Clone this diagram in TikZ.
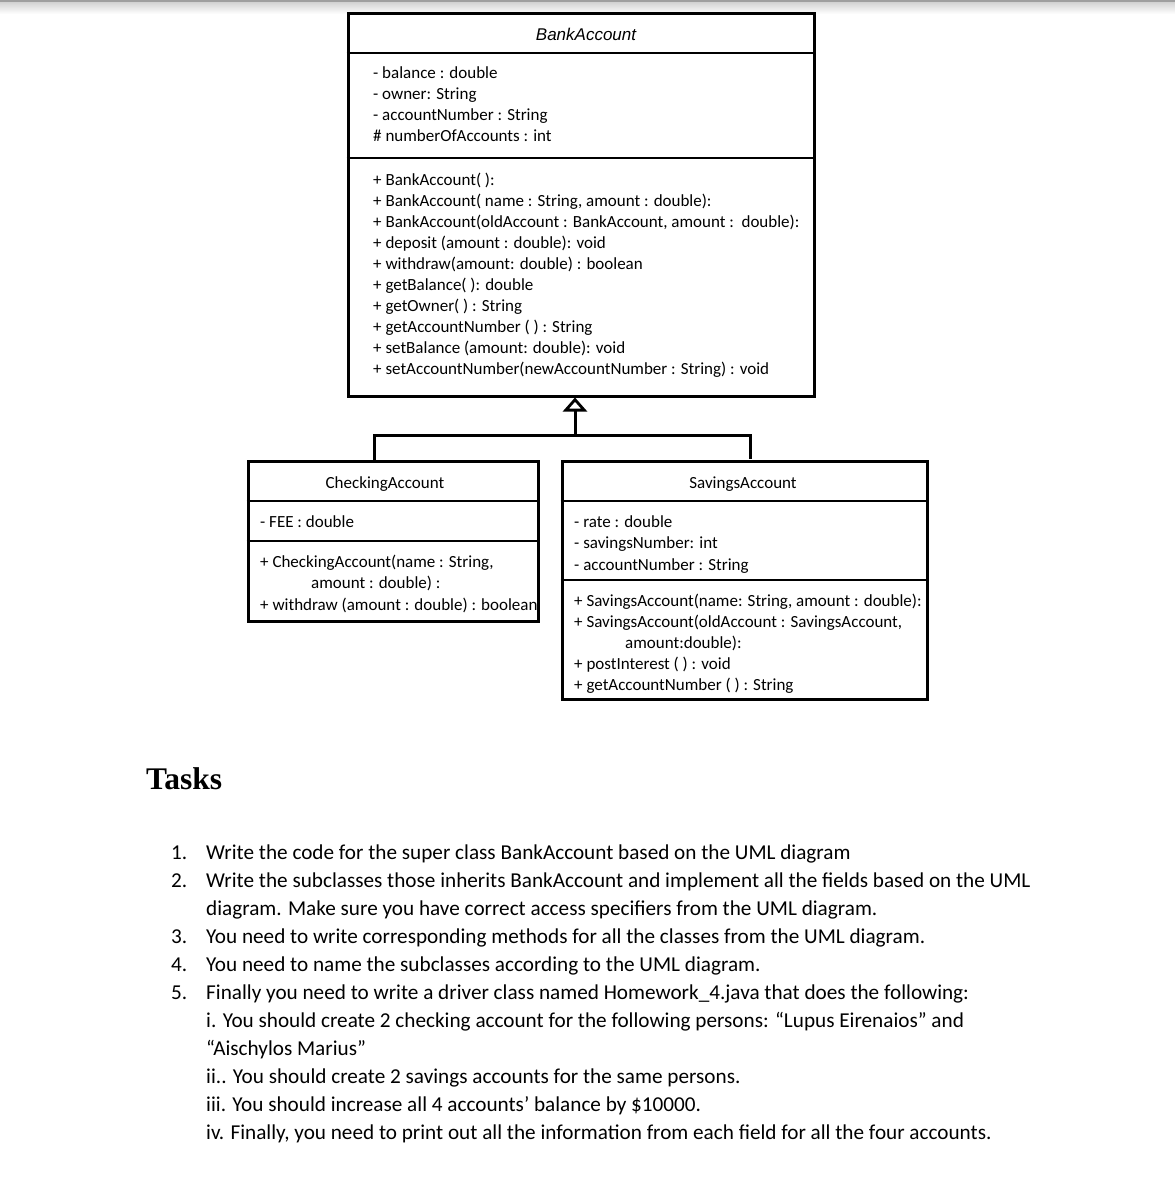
\documentclass[tikz,border=0pt]{standalone}
\usepackage{fontspec}
\setmainfont{Carlito}
\newfontfamily\arialfont{Liberation Sans}
\newfontfamily\timesfont{Liberation Serif}
\usetikzlibrary{arrows.meta}
\begin{document}
\begin{tikzpicture}[x=1pt,y=-1pt,
  box/.style={draw, line width=3pt, inner sep=0, fill=white},
  divider/.style={line width=2.6pt},
  uml/.style={anchor=base west, inner sep=0, font=\fontsize{17}{21}\selectfont},
  umltitle/.style={anchor=base, inner sep=0, font=\fontsize{17}{21}\selectfont},
  task/.style={anchor=base west, inner sep=0, font=\fontsize{21.2}{28}\selectfont},
  conn/.style={line width=3pt}]
\useasboundingbox (0,0) rectangle (1175,1189);
% top shadow band
\fill[white] (0,0) rectangle (1175,1189);
\shade[top color=gray!35, bottom color=white] (0,2) rectangle (1175,14);
\fill[gray!75] (0,0) rectangle (1175,2.2);

% ---- BankAccount ----
\node[box, minimum width=466pt, minimum height=383pt] (ba) at (581,204.5) {};
\draw[divider] (ba.west |- 0,53) -- (ba.east |- 0,53);
\draw[divider] (ba.west |- 0,158) -- (ba.east |- 0,158);
\node[umltitle, font=\arialfont\itshape\fontsize{17}{21}\selectfont] (batitle) at (586,40) {BankAccount};
\node[uml] (baa1) at (373,78.5) {- balance : double};
\node[uml] (baa2) at (373,99.6) {- owner: String};
\node[uml] (baa3) at (373,120.7) {- accountNumber : String};
\node[uml] (baa4) at (373,141.8) {\# numberOfAccounts : int};
\node[uml] (bam1) at (373,185) {+ BankAccount( ):};
\node[uml] (bam2) at (373,206.1) {+ BankAccount( name : String, amount : double):};
\node[uml] (bam3) at (373,227.2) {+ BankAccount(oldAccount : BankAccount, amount :\ \ double):};
\node[uml] (bam4) at (373,248.3) {+ deposit (amount : double): void};
\node[uml] (bam5) at (373,269.4) {+ withdraw(amount: double) : boolean};
\node[uml] (bam6) at (373,290.5) {+ getBalance( ): double};
\node[uml] (bam7) at (373,311.6) {+ getOwner( ) : String};
\node[uml] (bam8) at (373,332.7) {+ getAccountNumber ( ) : String};
\node[uml] (bam9) at (373,353.8) {+ setBalance (amount: double): void};
\node[uml] (bam10) at (373,374.9) {+ setAccountNumber(newAccountNumber : String) : void};

% ---- CheckingAccount ----
\node[box, minimum width=290pt, minimum height=160pt] (ca) at (393,541) {};
\draw[divider] (ca.west |- 0,501) -- (ca.east |- 0,501);
\draw[divider] (ca.west |- 0,541) -- (ca.east |- 0,541);
\node[umltitle] (catitle) at (385,488) {CheckingAccount};
\node[uml] (caa1) at (260,527) {- FEE : double};
\node[uml] (cam1) at (260,567) {+ CheckingAccount(name : String,};
\node[uml] (cam2) at (311,588.5) {amount : double) :};
\node[uml] (cam3) at (260,610) {+ withdraw (amount : double) : boolean};

% ---- SavingsAccount ----
\node[box, minimum width=365pt, minimum height=238pt] (sa) at (744.5,580) {};
\draw[divider] (sa.west |- 0,501) -- (sa.east |- 0,501);
\draw[divider] (sa.west |- 0,580) -- (sa.east |- 0,580);
\node[umltitle] (satitle) at (743,488) {SavingsAccount};
\node[uml] (saa1) at (574,527) {- rate : double};
\node[uml] (saa2) at (574,548.5) {- savingsNumber: int};
\node[uml] (saa3) at (574,570) {- accountNumber : String};
\node[uml] (sam1) at (574,606) {+ SavingsAccount(name: String, amount : double):};
\node[uml] (sam2) at (574,627) {+ SavingsAccount(oldAccount : SavingsAccount,};
\node[uml] (sam3) at (625,648) {amount:double):};
\node[uml] (sam4) at (574,669) {+ postInterest ( ) : void};
\node[uml] (sam5) at (574,690) {+ getAccountNumber ( ) : String};

% ---- inheritance ----
\coordinate (j) at (575,435);
\coordinate (cadrop) at (374,461);
\coordinate (sadrop) at (750,459);
\draw[conn] (cadrop) |- (j) -| (sadrop);
\draw[conn, -{Triangle[open, length=14pt, width=24pt, line width=2.8pt]}] (j) -- (j |- ba.south);

% ---- Tasks ----
\node[anchor=base west, inner sep=0, font=\timesfont\bfseries\fontsize{31.5}{36}\selectfont] (tasks) at (146,789) {Tasks};
\node[task] (n1) at (171,859) {1.};
\node[task] (t1) at (206,859) {Write the code for the super class BankAccount based on the UML diagram};
\node[task] (n2) at (171,887) {2.};
\node[task] (t2) at (206,887) {Write the subclasses those inherits BankAccount and implement all the fields based on the UML};
\node[task] (t2b) at (206,915) {diagram. Make sure you have correct access specifiers from the UML diagram.};
\node[task] (n3) at (171,943) {3.};
\node[task] (t3) at (206,943) {You need to write corresponding methods for all the classes from the UML diagram.};
\node[task] (n4) at (171,971) {4.};
\node[task] (t4) at (206,971) {You need to name the subclasses according to the UML diagram.};
\node[task] (n5) at (171,999) {5.};
\node[task] (t5) at (206,999) {Finally you need to write a driver class named Homework\_4.java that does the following:};
\node[task] (t5a) at (206,1027) {i. You should create 2 checking account for the following persons: “Lupus Eirenaios” and};
\node[task] (t5a2) at (206,1055) {“Aischylos Marius”};
\node[task] (t5b) at (206,1083) {ii.. You should create 2 savings accounts for the same persons.};
\node[task] (t5c) at (206,1111) {iii. You should increase all 4 accounts’ balance by \$10000.};
\node[task] (t5d) at (206,1139) {iv. Finally, you need to print out all the information from each field for all the four accounts.};
\end{tikzpicture}
\end{document}
